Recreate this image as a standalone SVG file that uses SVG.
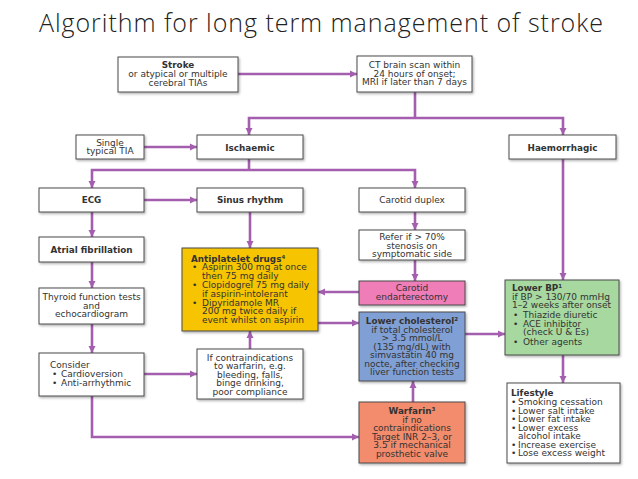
<svg xmlns="http://www.w3.org/2000/svg" width="638" height="479" viewBox="0 0 638 479">
<defs>
<style>
.box{fill:#fff;stroke:#4a4a4a;stroke-width:1;filter:url(#sh)}
.gold{fill:#F6C400}
.pink{fill:#EF7DB8}
.blue{fill:#809FD5}
.salmon{fill:#F28C6C}
.green{fill:#A6D8A0}
.t{font-family:"DejaVu Sans","Liberation Sans",sans-serif;font-size:9px;fill:#333}
.c{text-anchor:middle}
.b{font-weight:bold;font-size:8.8px}
.con{fill:none;stroke:#A35FAE;stroke-width:2.6;marker-end:url(#ar)}
.ln{fill:none;stroke:#A35FAE;stroke-width:2.6}
.title{font-family:"Open Sans","Liberation Sans",sans-serif;font-weight:300;font-size:25px;fill:#222;text-anchor:middle}
</style>
<filter id="sh" x="-10%" y="-10%" width="130%" height="140%">
<feDropShadow dx="1.2" dy="1.5" stdDeviation="0.8" flood-color="#000" flood-opacity="0.3"/>
</filter>
<marker id="ar" markerUnits="userSpaceOnUse" markerWidth="8" markerHeight="8" refX="7" refY="4" orient="auto">
<path d="M0,0.5 L7,4 L0,7.5 z" fill="#A35FAE"/>
</marker>
</defs>
<rect width="638" height="479" fill="#fff"/>
<text class="title" x="321" y="32" textLength="564">Algorithm for long term management of stroke</text>

<g id="connectors">
<path class="con" d="M238,74 H357"/>
<path class="ln" d="M415,92 V118"/>
<path class="con" d="M415,118 H249 V135"/>
<path class="con" d="M415,118 H563 V135"/>
<path class="con" d="M144,147 H197"/>
<path class="ln" d="M249,159 V170"/>
<path class="con" d="M249,170 H92 V188"/>
<path class="con" d="M249,170 H415 V188"/>
<path class="con" d="M144,200 H197"/>
<path class="con" d="M92,212 V237"/>
<path class="con" d="M92,262 V288"/>
<path class="con" d="M92,324 V353"/>
<path class="con" d="M144,374 H197"/>
<path class="con" d="M250,349 V331"/>
<path class="con" d="M250,212 V248"/>
<path class="con" d="M92,396 V437 H359"/>
<path class="con" d="M415,212 V230"/>
<path class="con" d="M415,260 V281"/>
<path class="con" d="M359,292 H318"/>
<path class="con" d="M318,323 H359"/>
<path class="con" d="M413,402 V381"/>
<path class="con" d="M465,334 H505"/>
<path class="con" d="M563,159 V280"/>
<path class="con" d="M563,355 V383"/>
</g>

<g id="stroke">
<rect class="box" x="118" y="57" width="120" height="35"/>
<text class="t c b" x="178" y="68">Stroke</text>
<text class="t c" x="178" y="77">or atypical or multiple</text>
<text class="t c" x="178" y="86">cerebral TIAs</text>
</g>
<g id="ct">
<rect class="box" x="357" y="56" width="115" height="36"/>
<text class="t c" x="414.5" y="68">CT brain scan within</text>
<text class="t c" x="414.5" y="76.5">24 hours of onset;</text>
<text class="t c" x="414.5" y="85">MRI if later than 7 days</text>
</g>
<g id="single-tia">
<rect class="box" x="76" y="135" width="68" height="24"/>
<text class="t c" x="110" y="145.5">Single</text>
<text class="t c" x="110" y="154">typical TIA</text>
</g>
<g id="ischaemic">
<rect class="box" x="197" y="135" width="106" height="24"/>
<text class="t c b" x="250" y="150.5">Ischaemic</text>
</g>
<g id="haemorrhagic">
<rect class="box" x="509" y="135" width="107" height="24"/>
<text class="t c b" x="562.5" y="150.5">Haemorrhagic</text>
</g>
<g id="ecg">
<rect class="box" x="39" y="188" width="105" height="24"/>
<text class="t c b" x="91.5" y="203">ECG</text>
</g>
<g id="sinus">
<rect class="box" x="197" y="188" width="106" height="24"/>
<text class="t c b" x="250" y="203">Sinus rhythm</text>
</g>
<g id="carotid-duplex">
<rect class="box" x="359" y="188" width="106" height="24"/>
<text class="t c" x="412" y="203">Carotid duplex</text>
</g>
<g id="af">
<rect class="box" x="39" y="237" width="105" height="25"/>
<text class="t c b" x="91.5" y="252.5">Atrial fibrillation</text>
</g>
<g id="refer">
<rect class="box" x="359" y="230" width="106" height="30"/>
<text class="t c" x="412" y="240">Refer if &gt; 70%</text>
<text class="t c" x="412" y="248.5">stenosis on</text>
<text class="t c" x="412" y="257">symptomatic side</text>
</g>
<g id="thyroid">
<rect class="box" x="39" y="288" width="105" height="36"/>
<text class="t c" x="91.5" y="300">Thyroid function tests</text>
<text class="t c" x="91.5" y="308.5">and</text>
<text class="t c" x="91.5" y="317">echocardiogram</text>
</g>
<g id="endarterectomy">
<rect class="box pink" x="359" y="281" width="106" height="24"/>
<text class="t c" x="412" y="290.5">Carotid</text>
<text class="t c" x="412" y="300">endarterectomy</text>
</g>
<g id="antiplatelet">
<rect class="box gold" x="182" y="248" width="136" height="83"/>
<text class="t b" x="191" y="261.5">Antiplatelet drugs⁴</text>
<text class="t" x="192" y="270">•</text><text class="t" x="202" y="270">Aspirin 300 mg at once</text>
<text class="t" x="202" y="278.5">then 75 mg daily</text>
<text class="t" x="192" y="288">•</text><text class="t" x="202" y="288">Clopidogrel 75 mg daily</text>
<text class="t" x="202" y="296.5">if aspirin-intolerant</text>
<text class="t" x="192" y="305.5">•</text><text class="t" x="202" y="305.5">Dipyridamole MR</text>
<text class="t" x="202" y="314">200 mg twice daily if</text>
<text class="t" x="202" y="322.5">event whilst on aspirin</text>
</g>
<g id="cholesterol">
<rect class="box blue" x="359" y="312" width="106" height="69"/>
<text class="t c b" x="412" y="324">Lower cholesterol²</text>
<text class="t c" x="412" y="332.5">if total cholesterol</text>
<text class="t c" x="412" y="341">&gt; 3.5 mmol/L</text>
<text class="t c" x="412" y="349.5">(135 mg/dL) with</text>
<text class="t c" x="412" y="358">simvastatin 40 mg</text>
<text class="t c" x="412" y="366.5">nocte, after checking</text>
<text class="t c" x="412" y="375">liver function tests</text>
</g>
<g id="lower-bp">
<rect class="box green" x="505" y="280" width="114" height="75"/>
<text class="t b" x="512" y="291">Lower BP¹</text>
<text class="t" x="512" y="299.5">if BP &gt; 130/70 mmHg</text>
<text class="t" x="512" y="308">1–2 weeks after onset</text>
<text class="t" x="513" y="317.5">•</text><text class="t" x="523" y="317.5">Thiazide diuretic</text>
<text class="t" x="513" y="326.5">•</text><text class="t" x="523" y="326.5">ACE inhibitor</text>
<text class="t" x="523" y="335">(check U &amp; Es)</text>
<text class="t" x="513" y="344.5">•</text><text class="t" x="523" y="344.5">Other agents</text>
</g>
<g id="consider">
<rect class="box" x="39" y="353" width="105" height="43"/>
<text class="t" x="50" y="368">Consider</text>
<text class="t" x="52" y="377">•</text><text class="t" x="61" y="377">Cardioversion</text>
<text class="t" x="52" y="386">•</text><text class="t" x="61" y="386">Anti-arrhythmic</text>
</g>
<g id="contraindications">
<rect class="box" x="197" y="349" width="106" height="50"/>
<text class="t c" x="250" y="360.5">If contraindications</text>
<text class="t c" x="250" y="369">to warfarin, e.g.</text>
<text class="t c" x="250" y="377.5">bleeding, falls,</text>
<text class="t c" x="250" y="386">binge drinking,</text>
<text class="t c" x="250" y="394.5">poor compliance</text>
</g>
<g id="warfarin">
<rect class="box salmon" x="359" y="402" width="106" height="61"/>
<text class="t c b" x="412" y="414">Warfarin³</text>
<text class="t c" x="412" y="422.5">if no</text>
<text class="t c" x="412" y="431">contraindications</text>
<text class="t c" x="412" y="439.5">Target INR 2–3, or</text>
<text class="t c" x="412" y="448">3.5 if mechanical</text>
<text class="t c" x="412" y="456.5">prosthetic valve</text>
</g>
<g id="lifestyle">
<rect class="box" x="507" y="383" width="113" height="80"/>
<text class="t b" x="511" y="396">Lifestyle</text>
<text class="t" x="511" y="405">•</text><text class="t" x="518" y="405">Smoking cessation</text>
<text class="t" x="511" y="413.5">•</text><text class="t" x="518" y="413.5">Lower salt intake</text>
<text class="t" x="511" y="422">•</text><text class="t" x="518" y="422">Lower fat intake</text>
<text class="t" x="511" y="430.5">•</text><text class="t" x="518" y="430.5">Lower excess</text>
<text class="t" x="518" y="439">alcohol intake</text>
<text class="t" x="511" y="447.5">•</text><text class="t" x="518" y="447.5">Increase exercise</text>
<text class="t" x="511" y="456">•</text><text class="t" x="518" y="456">Lose excess weight</text>
</g>
</svg>
